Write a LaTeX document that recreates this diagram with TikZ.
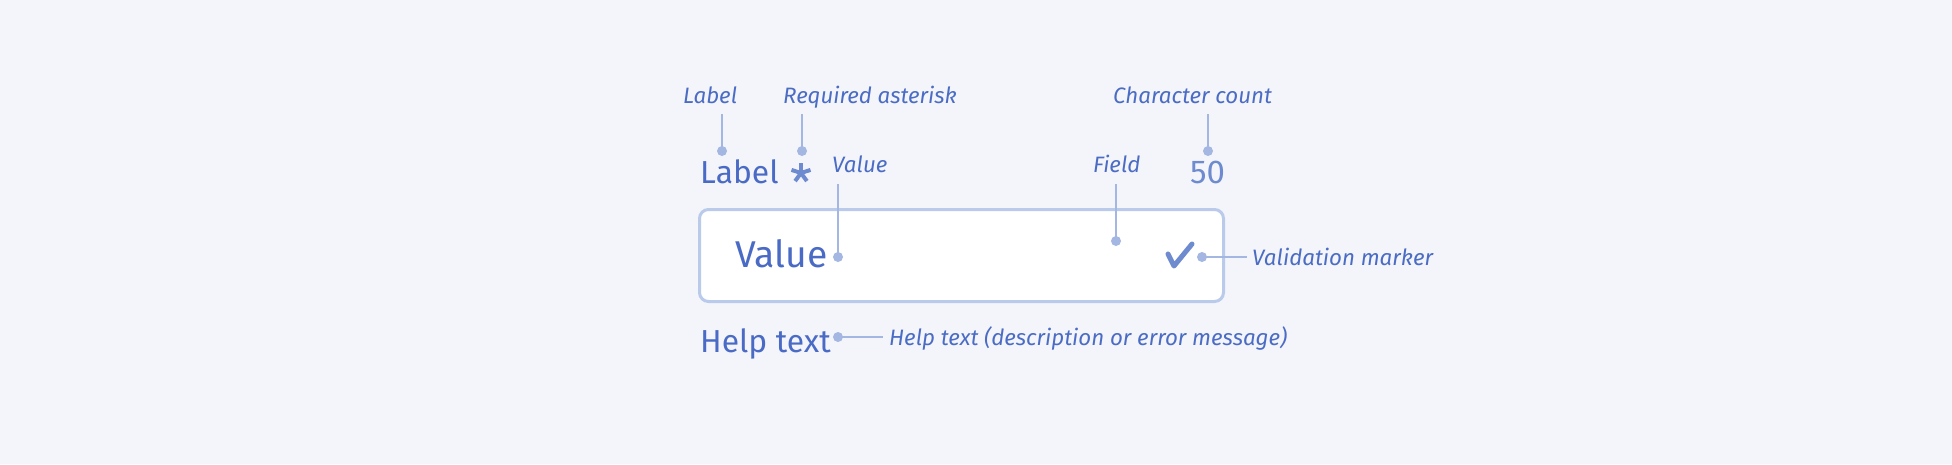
\documentclass[tikz,border=0pt]{standalone}
\usepackage{fontspec}
\setmainfont{Fira Sans}
\definecolor{bg}{HTML}{F4F5FA}
\definecolor{anntext}{HTML}{4A6CC4}
\definecolor{maintext}{HTML}{4A6BC5}
\definecolor{softtext}{HTML}{6E8BD0}
\definecolor{leader}{HTML}{A4B6E2}
\definecolor{fieldborder}{HTML}{BACAEB}
\tikzset{
  ann/.style={anchor=base west, inner sep=0pt, text=anntext, font=\fontsize{22.3}{26}\selectfont\itshape},
  big/.style={anchor=base west, inner sep=0pt, text=maintext},
  leaderline/.style={draw=leader, line width=2pt},
  dotmark/.style={fill=leader},
}
\begin{document}
\begin{tikzpicture}[x=1pt,y=-1pt]
\fill[bg] (0,0) rectangle (1952,464);
\useasboundingbox (0,0) rectangle (1952,464);

% field
\draw[fieldborder, fill=white, line width=3pt, rounded corners=9pt] (699.5,209.5) rectangle (1223.5,301.5);
\coordinate (fieldbox) at (960,255);

% main texts
\node[big, font=\fontsize{31.8}{38}\selectfont] (lbl) at (700,183) {Label};
\node[big, font=\fontsize{33}{38}\selectfont, text=softtext] (cnt) at (1190,183) {50};
\node[big, font=\fontsize{37.3}{44}\selectfont] (val) at (735,267) {Value};
\node[big, font=\fontsize{31.8}{40}\selectfont] (help) at (700,352) {Help text};

% asterisk
\coordinate (ast) at (801,173);
\foreach \a in {90,18,162,234,306}
  \draw[softtext, line width=4pt] (ast) -- ++(\a:-10) ;
% check mark
\coordinate (chk) at (1180,256);
\draw[softtext, line width=5pt, line cap=round, line join=round] (1168,254) -- (1174,266) -- (1192,244);

% annotations
\node[ann] (aLabel) at (683,103) {Label};
\node[ann] (aReq) at (783,103) {Required asterisk};
\node[ann] (aCount) at (1113,103) {Character count};
\node[ann] (aValue) at (832,172) {Value};
\node[ann] (aField) at (1093,172) {Field};
\node[ann] (aValid) at (1252,265) {Validation marker};
\node[ann] (aHelp) at (889,345) {Help text (description or error message)};

% dots
\coordinate (dLabel) at (722,151);
\coordinate (dReq) at (802,151);
\coordinate (dCount) at (1208,151);
\coordinate (dValue) at (838,257);
\coordinate (dField) at (1116,241);
\coordinate (dValid) at (1202,257);
\coordinate (dHelp) at (838,337);

% leader lines
\draw[leaderline] (aLabel.base -| dLabel) ++(0,11) -- (dLabel);
\draw[leaderline] (aReq.base -| dReq) ++(0,11) -- (dReq);
\draw[leaderline] (aCount.base -| dCount) ++(0,11) -- (dCount);
\draw[leaderline] (aValue.base -| dValue) ++(0,12) -- (dValue);
\draw[leaderline] (aField.base -| dField) ++(0,12) -- (dField);
\draw[leaderline] (dValid) -- ([xshift=-5pt]aValid.west |- dValid);
\draw[leaderline] (dHelp) -- ([xshift=-6pt]aHelp.west |- dHelp);

\foreach \d in {dLabel,dReq,dCount,dValue,dField,dValid,dHelp}
  \fill[dotmark] (\d) circle (5pt);
\end{tikzpicture}
\end{document}
